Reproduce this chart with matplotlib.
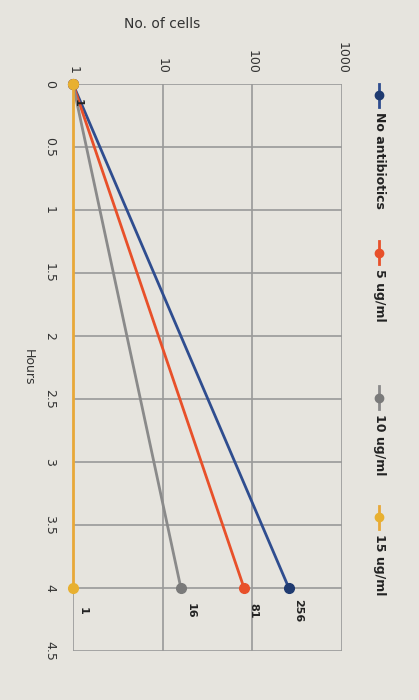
import matplotlib
matplotlib.use("Agg")
import matplotlib.pyplot as plt

hours = [0, 4]
series = {
    "No antibiotics": [1, 256],
    "5 ug/ml": [1, 81],
    "10 ug/ml": [1, 16],
    "15 ug/ml": [1, 1],
}
colors = ["#2f4d8f", "#e8502a", "#8a8a8a", "#e8a838"]
mcolors = ["#1f3a70", "#e8502a", "#7a7a7a", "#e8b030"]
hour_ticks = [0, 0.5, 1, 1.5, 2, 2.5, 3, 3.5, 4, 4.5]
hour_labels = ["0", "0.5", "1", "1.5", "2", "2.5", "3", "3.5", "4", "4.5"]
cell_ticks = [1, 10, 100, 1000]
cell_labels = ["1", "10", "100", "1000"]

fig = plt.figure(figsize=(4.19, 7.0), dpi=100, facecolor="#e6e4de")
ax = fig.add_axes([0.174, 0.07, 0.642, 0.81])
ax.set_facecolor("#e6e4de")
ax.set_xscale("log")
ax.set_xlim(1, 1000)
ax.set_ylim(4.5, 0)
for v in hour_ticks:
    ax.axhline(v, color="#999999", lw=1.2, zorder=1)
for v in cell_ticks:
    ax.axvline(v, color="#999999", lw=1.2, zorder=1)
for s in ax.spines.values():
    s.set_visible(False)
ax.tick_params(length=0)
ax.set_xticks(cell_ticks)
ax.set_xticklabels([])
ax.set_yticks(hour_ticks)
ax.set_yticklabels([])
ax.minorticks_off()
for v, l in zip(cell_ticks, cell_labels):
    ax.text(v, -0.08, l, rotation=-90, ha="center", va="bottom", fontsize=9, color="#333")
for v, l in zip(hour_ticks, hour_labels):
    ax.text(0.55, v, l, rotation=-90, ha="center", va="center", fontsize=9, color="#333")
ax.text(10, -0.42, "No. of cells", ha="center", va="bottom", fontsize=10, color="#333")
ax.text(0.32, 2.25, "Hours", rotation=-90, ha="center", va="center", fontsize=9, color="#333")

handles = []
for (name, vals), c, mc in zip(series.items(), colors, mcolors):
    h, = ax.plot(vals, hours, color=c, lw=2, marker="o", ms=7, mfc=mc, mec=mc, zorder=3, clip_on=False)
    handles.append(h)
    ax.text(vals[-1] * 1.12, hours[-1] + 0.18, str(vals[-1]), rotation=-90, ha="left", va="center",
            fontsize=8, fontweight="bold", color="#222")
ax.text(1.12, 0.15, "1", rotation=-90, ha="center", va="center", fontsize=8, fontweight="bold", color="#222")

# legend drawn vertically on the right
y0 = 0.0
steps = [0, 1.25, 2.4, 3.35]
for (name, h, s) in zip(series.keys(), handles, steps):
    ax.plot([2600, 2600], [s, s + 0.18], color=h.get_color(), lw=2, clip_on=False)
    ax.plot([2600], [s + 0.09], "o", color=h.get_markerfacecolor(), ms=6, clip_on=False)
    ax.text(2600, s + 0.22, name, rotation=-90, ha="center", va="top", fontsize=9, fontweight="bold", color="#222")

fig.savefig("out.png", dpi=100, facecolor=fig.get_facecolor())
